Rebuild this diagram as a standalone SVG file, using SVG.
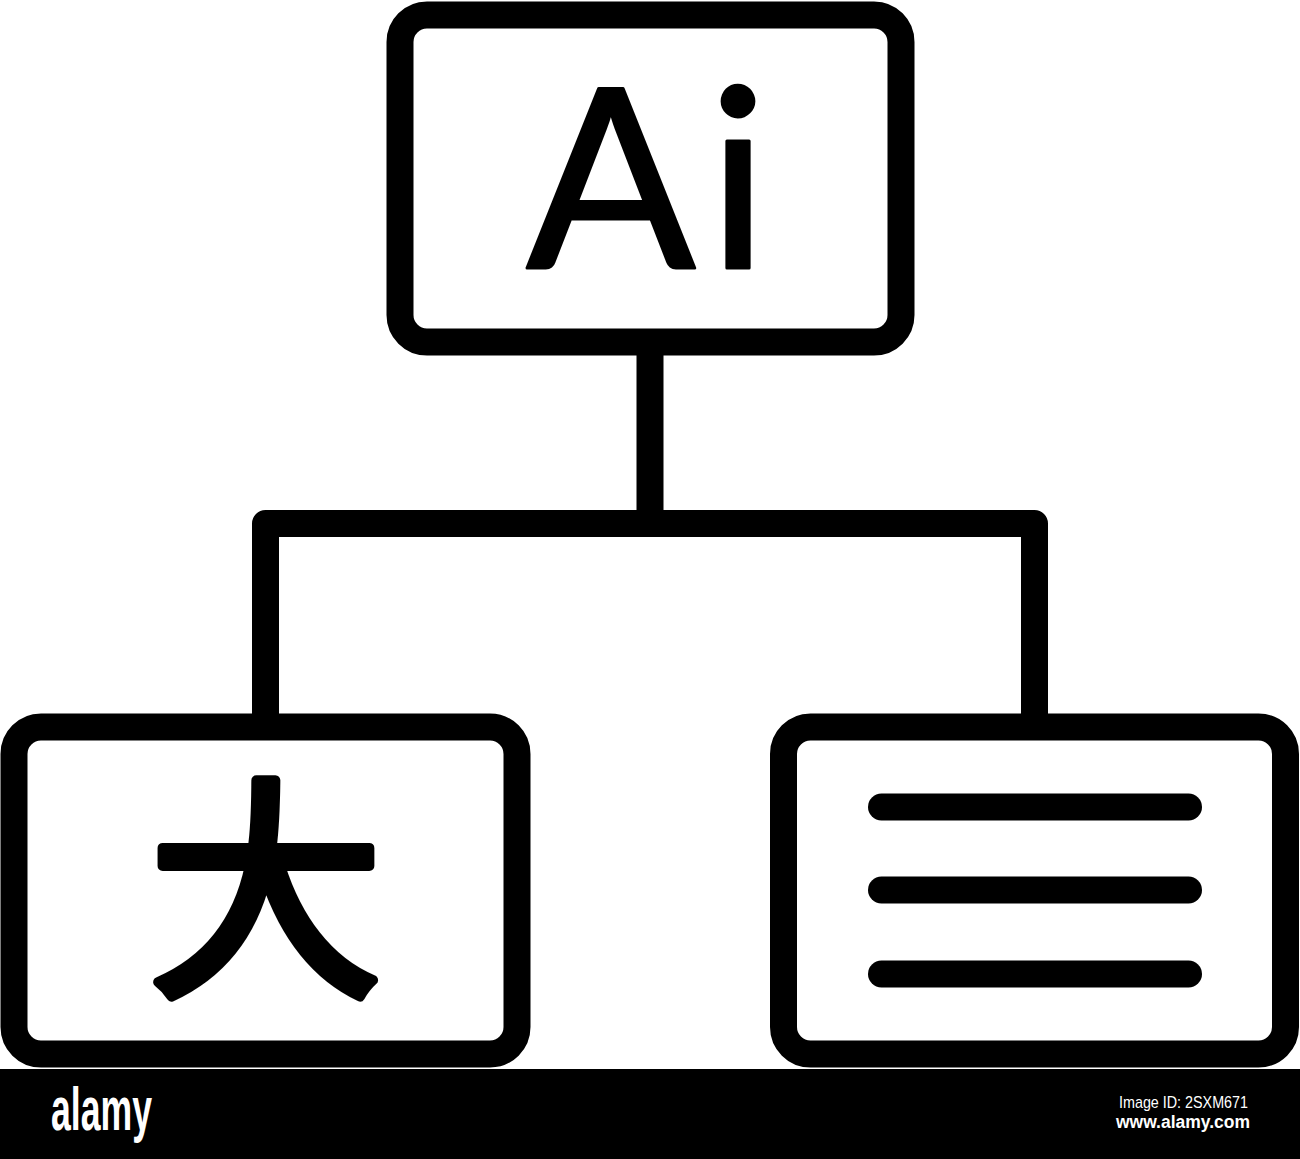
<svg xmlns="http://www.w3.org/2000/svg" width="1300" height="1159" viewBox="0 0 1300 1159">
  <style>
    .box { fill: #ffffff; stroke: #000000; stroke-width: 27; }
    .conn { fill: none; stroke: #000000; stroke-width: 27; stroke-linejoin: round; }
    .bar { stroke: #000000; stroke-width: 27; stroke-linecap: round; }
    .glyph { fill: #000000; stroke: #000000; stroke-linejoin: round; }
    .ban { fill: #ffffff; font-family: "Liberation Sans", Arial, sans-serif; }
  </style>
  <rect x="0" y="0" width="1300" height="1159" fill="#ffffff"/>
  <g id="connectors">
    <path class="conn" d="M650,342 V523.5"/>
    <path class="conn" d="M265.5,727 V523.5 H1034.5 V727"/>
  </g>
  <g id="node-ai">
    <rect class="box" x="400" y="15" width="501" height="327" rx="27" ry="27"/>
    <text class="glyph" x="647" y="268" text-anchor="middle" font-family="Lato, 'Open Sans', sans-serif" font-size="250" stroke-width="3">A<tspan dx="13">i</tspan></text>
  </g>
  <g id="node-chinese">
    <rect class="box" x="14" y="727" width="503" height="327" rx="27" ry="27"/>
    <text class="glyph" x="265.5" y="978" text-anchor="middle" font-family="'Noto Sans CJK SC', sans-serif" font-size="235" stroke-width="10">大</text>
  </g>
  <g id="node-text">
    <rect class="box" x="783.5" y="727" width="502" height="327" rx="27" ry="27"/>
    <line class="bar" x1="881.5" y1="807" x2="1188.5" y2="807"/>
    <line class="bar" x1="881.5" y1="890" x2="1188.5" y2="890"/>
    <line class="bar" x1="881.5" y1="974" x2="1188.5" y2="974"/>
  </g>
  <g id="banner">
    <rect x="0" y="1069" width="1300" height="90" fill="#000000"/>
    <text class="ban" x="51" y="1130" font-size="62" font-weight="bold" textLength="101" lengthAdjust="spacingAndGlyphs">alamy</text>
    <text class="ban" x="1119" y="1108" font-size="17" textLength="129" lengthAdjust="spacingAndGlyphs">Image ID: 2SXM671</text>
    <text class="ban" x="1116" y="1128" font-size="18" font-weight="bold" textLength="134" lengthAdjust="spacingAndGlyphs">www.alamy.com</text>
  </g>
</svg>
